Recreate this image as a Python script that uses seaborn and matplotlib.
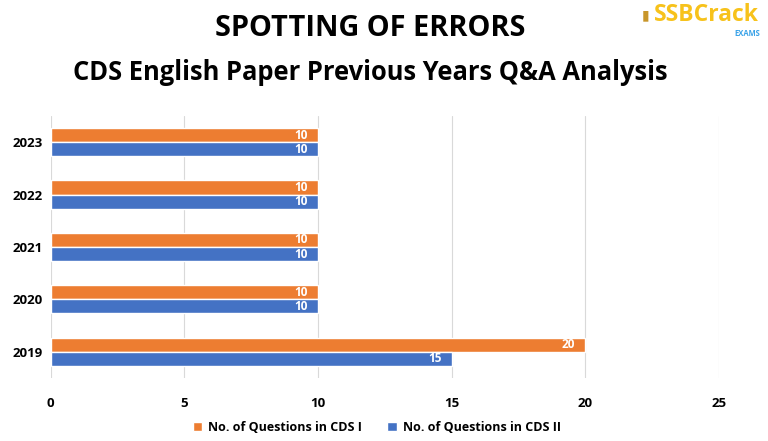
import pandas as pd
import matplotlib.pyplot as plt
import seaborn as sns

years = ["2023", "2022", "2021", "2020", "2019"]
cds_1 = [10, 10, 10, 10, 20]
cds_2 = [10, 10, 10, 10, 15]
series = ["No. of Questions in CDS I", "No. of Questions in CDS II"]
colors = ["#ED7D31", "#4472C4"]

df = pd.DataFrame({
    "year": years * 2,
    "value": cds_1 + cds_2,
    "series": [series[0]] * len(years) + [series[1]] * len(years),
})

sns.set_theme(style="white")
plt.rcParams['font.family'] = ['Open Sans', 'DejaVu Sans']
plt.rcParams['text.color'] = 'black'
plt.rcParams['xtick.color'] = 'black'
plt.rcParams['ytick.color'] = 'black'

fig = plt.figure(figsize=(7.68, 4.41), dpi=100)
ax = fig.add_axes([0.066, 0.143, 0.87, 0.594])

sns.barplot(data=df, y="year", x="value", hue="series", order=years,
            hue_order=series, palette=colors, orient="h", width=0.54,
            saturation=1, ax=ax, legend=True)

for cont in ax.containers:
    ax.bar_label(cont, labels=[f"{int(v)}" for v in cont.datavalues],
                 padding=-17, color="white", fontsize=8.5, fontweight="bold")

ax.set_xlim(0, 25)
ax.set_xticks([0, 5, 10, 15, 20, 25])
ax.grid(axis="x", color="#D9D9D9", linewidth=0.8)
ax.set_axisbelow(True)
for s in ax.spines.values():
    s.set_visible(False)
ax.set_xlabel("")
ax.set_ylabel("")
ax.tick_params(axis="both", length=0, labelsize=9.5, pad=6)
for lbl in ax.get_xticklabels() + ax.get_yticklabels():
    lbl.set_fontweight("bold")
ax.tick_params(axis="x", pad=14)

ax.legend(loc="upper center", bbox_to_anchor=(0.488, -0.12), ncol=2,
          frameon=False, handlelength=0.75, handleheight=0.75,
          columnspacing=2.0, handletextpad=0.5,
          prop={"weight": "bold", "size": 9.0})

fig.text(0.482, 0.935, "SPOTTING OF ERRORS", ha="center", va="center",
         fontsize=20.8, fontweight="bold")
fig.text(0.482, 0.835, "CDS English Paper Previous Years Q&A Analysis",
         ha="center", va="center", fontsize=18.4, fontweight="bold")
fig.text(0.852, 0.965, "SSBCrack", ha="left", va="center", fontsize=16.5,
         fontweight="bold", color="#F7C21B")
fig.text(0.99, 0.925, "EXAMS", ha="right", va="center", fontsize=5.5,
         fontweight="bold", color="#3BA3E8")
fig.text(0.845, 0.965, "\u25AE", ha="right", va="center", fontsize=10,
         color="#C8962A")

fig.savefig("out.png", dpi=100)
